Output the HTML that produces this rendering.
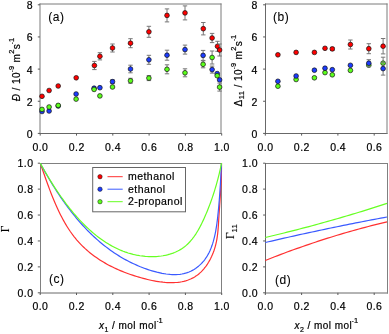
<!DOCTYPE html>
<html><head><meta charset="utf-8"><style>
html,body{margin:0;padding:0;background:#fff;width:389px;height:334px;overflow:hidden}
svg{display:block;will-change:transform}
</style></head><body>
<svg width="389" height="334" viewBox="0 0 389 334">
<rect width="389" height="334" fill="#fff"/>
<line x1="39.5" y1="4.0" x2="221.5" y2="4.0" stroke="#7a7a7a" stroke-width="1"/>
<line x1="39.5" y1="133.5" x2="221.5" y2="133.5" stroke="#686868" stroke-width="1"/>
<line x1="40.0" y1="3.5" x2="40.0" y2="134" stroke="#7a7a7a" stroke-width="1"/>
<line x1="221.0" y1="3.5" x2="221.0" y2="134" stroke="#7a7a7a" stroke-width="1"/>
<line x1="265" y1="4.0" x2="387.5" y2="4.0" stroke="#7a7a7a" stroke-width="1"/>
<line x1="265" y1="133.5" x2="387.5" y2="133.5" stroke="#686868" stroke-width="1"/>
<line x1="265.5" y1="3.5" x2="265.5" y2="134" stroke="#686868" stroke-width="1"/>
<line x1="387.0" y1="3.5" x2="387.0" y2="134" stroke="#7a7a7a" stroke-width="1"/>
<line x1="40" y1="163.5" x2="222" y2="163.5" stroke="#808080" stroke-width="1"/>
<line x1="40" y1="293.0" x2="222" y2="293.0" stroke="#686868" stroke-width="1"/>
<line x1="40.5" y1="163" x2="40.5" y2="293.5" stroke="#808080" stroke-width="1"/>
<line x1="221.5" y1="163" x2="221.5" y2="293.5" stroke="#808080" stroke-width="1"/>
<line x1="265" y1="163.5" x2="388" y2="163.5" stroke="#808080" stroke-width="1"/>
<line x1="265" y1="293.0" x2="388" y2="293.0" stroke="#686868" stroke-width="1"/>
<line x1="265.5" y1="163" x2="265.5" y2="293.5" stroke="#686868" stroke-width="1"/>
<line x1="387.5" y1="163" x2="387.5" y2="293.5" stroke="#808080" stroke-width="1"/>
<g font-family="Liberation Sans, sans-serif" font-size="10.5" fill="#000" stroke="#000" stroke-width="0.2" letter-spacing="0.45">
<line x1="40.20" y1="133.4" x2="40.20" y2="135.6" stroke="#5a5a5a" stroke-width="1"/>
<text x="40.43" y="151.0" text-anchor="middle">0.0</text>
<line x1="76.50" y1="133.4" x2="76.50" y2="135.6" stroke="#5a5a5a" stroke-width="1"/>
<text x="76.72" y="151.0" text-anchor="middle">0.2</text>
<line x1="112.80" y1="133.4" x2="112.80" y2="135.6" stroke="#5a5a5a" stroke-width="1"/>
<text x="113.03" y="151.0" text-anchor="middle">0.4</text>
<line x1="149.10" y1="133.4" x2="149.10" y2="135.6" stroke="#5a5a5a" stroke-width="1"/>
<text x="149.32" y="151.0" text-anchor="middle">0.6</text>
<line x1="185.40" y1="133.4" x2="185.40" y2="135.6" stroke="#5a5a5a" stroke-width="1"/>
<text x="185.63" y="151.0" text-anchor="middle">0.8</text>
<line x1="221.70" y1="133.4" x2="221.70" y2="135.6" stroke="#5a5a5a" stroke-width="1"/>
<text x="221.92" y="151.0" text-anchor="middle">1.0</text>
<line x1="265.30" y1="133.4" x2="265.30" y2="135.6" stroke="#5a5a5a" stroke-width="1"/>
<text x="265.53" y="151.0" text-anchor="middle">0.0</text>
<line x1="301.60" y1="133.4" x2="301.60" y2="135.6" stroke="#5a5a5a" stroke-width="1"/>
<text x="301.83" y="151.0" text-anchor="middle">0.2</text>
<line x1="337.90" y1="133.4" x2="337.90" y2="135.6" stroke="#5a5a5a" stroke-width="1"/>
<text x="338.13" y="151.0" text-anchor="middle">0.4</text>
<line x1="374.20" y1="133.4" x2="374.20" y2="135.6" stroke="#5a5a5a" stroke-width="1"/>
<text x="374.43" y="151.0" text-anchor="middle">0.6</text>
<line x1="40.20" y1="292.8" x2="40.20" y2="295.0" stroke="#5a5a5a" stroke-width="1"/>
<text x="40.43" y="310.4" text-anchor="middle">0.0</text>
<line x1="76.50" y1="292.8" x2="76.50" y2="295.0" stroke="#5a5a5a" stroke-width="1"/>
<text x="76.72" y="310.4" text-anchor="middle">0.2</text>
<line x1="112.80" y1="292.8" x2="112.80" y2="295.0" stroke="#5a5a5a" stroke-width="1"/>
<text x="113.03" y="310.4" text-anchor="middle">0.4</text>
<line x1="149.10" y1="292.8" x2="149.10" y2="295.0" stroke="#5a5a5a" stroke-width="1"/>
<text x="149.32" y="310.4" text-anchor="middle">0.6</text>
<line x1="185.40" y1="292.8" x2="185.40" y2="295.0" stroke="#5a5a5a" stroke-width="1"/>
<text x="185.63" y="310.4" text-anchor="middle">0.8</text>
<line x1="221.70" y1="292.8" x2="221.70" y2="295.0" stroke="#5a5a5a" stroke-width="1"/>
<text x="221.92" y="310.4" text-anchor="middle">1.0</text>
<line x1="265.30" y1="292.8" x2="265.30" y2="295.0" stroke="#5a5a5a" stroke-width="1"/>
<text x="265.53" y="310.4" text-anchor="middle">0.0</text>
<line x1="301.60" y1="292.8" x2="301.60" y2="295.0" stroke="#5a5a5a" stroke-width="1"/>
<text x="301.83" y="310.4" text-anchor="middle">0.2</text>
<line x1="337.90" y1="292.8" x2="337.90" y2="295.0" stroke="#5a5a5a" stroke-width="1"/>
<text x="338.13" y="310.4" text-anchor="middle">0.4</text>
<line x1="374.20" y1="292.8" x2="374.20" y2="295.0" stroke="#5a5a5a" stroke-width="1"/>
<text x="374.43" y="310.4" text-anchor="middle">0.6</text>
<line x1="37.8" y1="133.40" x2="40.0" y2="133.40" stroke="#5a5a5a" stroke-width="1"/>
<text x="33.05" y="137.90" text-anchor="end">0</text>
<line x1="37.8" y1="101.25" x2="40.0" y2="101.25" stroke="#5a5a5a" stroke-width="1"/>
<text x="33.05" y="105.75" text-anchor="end">2</text>
<line x1="37.8" y1="69.10" x2="40.0" y2="69.10" stroke="#5a5a5a" stroke-width="1"/>
<text x="33.05" y="73.60" text-anchor="end">4</text>
<line x1="37.8" y1="36.95" x2="40.0" y2="36.95" stroke="#5a5a5a" stroke-width="1"/>
<text x="33.05" y="41.45" text-anchor="end">6</text>
<line x1="37.8" y1="4.80" x2="40.0" y2="4.80" stroke="#5a5a5a" stroke-width="1"/>
<text x="33.05" y="9.30" text-anchor="end">8</text>
<line x1="263.1" y1="133.40" x2="265.3" y2="133.40" stroke="#5a5a5a" stroke-width="1"/>
<text x="257.85" y="137.90" text-anchor="end">0</text>
<line x1="263.1" y1="101.25" x2="265.3" y2="101.25" stroke="#5a5a5a" stroke-width="1"/>
<text x="257.85" y="105.75" text-anchor="end">2</text>
<line x1="263.1" y1="69.10" x2="265.3" y2="69.10" stroke="#5a5a5a" stroke-width="1"/>
<text x="257.85" y="73.60" text-anchor="end">4</text>
<line x1="263.1" y1="36.95" x2="265.3" y2="36.95" stroke="#5a5a5a" stroke-width="1"/>
<text x="257.85" y="41.45" text-anchor="end">6</text>
<line x1="263.1" y1="4.80" x2="265.3" y2="4.80" stroke="#5a5a5a" stroke-width="1"/>
<text x="257.85" y="9.30" text-anchor="end">8</text>
<line x1="37.8" y1="292.80" x2="40.0" y2="292.80" stroke="#5a5a5a" stroke-width="1"/>
<text x="33.45" y="297.00" text-anchor="end">0.0</text>
<line x1="37.8" y1="266.88" x2="40.0" y2="266.88" stroke="#5a5a5a" stroke-width="1"/>
<text x="33.45" y="271.08" text-anchor="end">0.2</text>
<line x1="37.8" y1="240.96" x2="40.0" y2="240.96" stroke="#5a5a5a" stroke-width="1"/>
<text x="33.45" y="245.16" text-anchor="end">0.4</text>
<line x1="37.8" y1="215.04" x2="40.0" y2="215.04" stroke="#5a5a5a" stroke-width="1"/>
<text x="33.45" y="219.24" text-anchor="end">0.6</text>
<line x1="37.8" y1="189.12" x2="40.0" y2="189.12" stroke="#5a5a5a" stroke-width="1"/>
<text x="33.45" y="193.32" text-anchor="end">0.8</text>
<line x1="37.8" y1="163.20" x2="40.0" y2="163.20" stroke="#5a5a5a" stroke-width="1"/>
<text x="33.45" y="167.40" text-anchor="end">1.0</text>
<line x1="263.1" y1="292.80" x2="265.3" y2="292.80" stroke="#5a5a5a" stroke-width="1"/>
<text x="258.05" y="297.00" text-anchor="end">0.0</text>
<line x1="263.1" y1="266.88" x2="265.3" y2="266.88" stroke="#5a5a5a" stroke-width="1"/>
<text x="258.05" y="271.08" text-anchor="end">0.2</text>
<line x1="263.1" y1="240.96" x2="265.3" y2="240.96" stroke="#5a5a5a" stroke-width="1"/>
<text x="258.05" y="245.16" text-anchor="end">0.4</text>
<line x1="263.1" y1="215.04" x2="265.3" y2="215.04" stroke="#5a5a5a" stroke-width="1"/>
<text x="258.05" y="219.24" text-anchor="end">0.6</text>
<line x1="263.1" y1="189.12" x2="265.3" y2="189.12" stroke="#5a5a5a" stroke-width="1"/>
<text x="258.05" y="193.32" text-anchor="end">0.8</text>
<line x1="263.1" y1="163.20" x2="265.3" y2="163.20" stroke="#5a5a5a" stroke-width="1"/>
<text x="258.05" y="167.40" text-anchor="end">1.0</text>
</g>
<g font-family="Liberation Sans, sans-serif" font-size="12" fill="#000" stroke="#000" stroke-width="0.08" letter-spacing="0.5">
<text x="48.3" y="21.3">(a)</text>
<text x="273.0" y="21.3">(b)</text>
<text x="48.9" y="283.2">(c)</text>
<text x="275.1" y="283.7">(d)</text>
</g>
<g font-family="Liberation Sans, sans-serif" font-size="10.0" fill="#000" stroke="#000" stroke-width="0.2" letter-spacing="0.45">
<text transform="translate(19.9,69.5) rotate(-90)" text-anchor="middle"><tspan font-style="italic">Đ</tspan> / 10<tspan dy="-5.6" font-size="5" letter-spacing="0.2">-</tspan><tspan font-size="7.5" letter-spacing="0.2">9</tspan><tspan dy="5.6"> m</tspan><tspan dy="-5.6" font-size="7.5" letter-spacing="0.2">2</tspan><tspan dy="5.6">s</tspan><tspan dy="-5.6" font-size="5" letter-spacing="0.2">-</tspan><tspan font-size="7.5" letter-spacing="0.2">1</tspan></text>
<text transform="translate(241.8,70.5) rotate(-90)" text-anchor="middle">Δ<tspan dy="2.5" font-size="7.5">11</tspan><tspan dy="-2.5"> / 10</tspan><tspan dy="-5.6" font-size="5" letter-spacing="0.2">-</tspan><tspan font-size="7.5" letter-spacing="0.2">9</tspan><tspan dy="5.6"> m</tspan><tspan dy="-5.6" font-size="7.5" letter-spacing="0.2">2</tspan><tspan dy="5.6">s</tspan><tspan dy="-5.6" font-size="5" letter-spacing="0.2">-</tspan><tspan font-size="7.5" letter-spacing="0.2">1</tspan></text>
<text x="131.0" y="328.6" text-anchor="middle"><tspan font-style="italic">x</tspan><tspan dy="3.2" font-size="7">1</tspan><tspan dy="-3.2"> / mol mol</tspan><tspan dy="-5.6" font-size="5" letter-spacing="0.2">-</tspan><tspan font-size="7.5" letter-spacing="0.2">1</tspan></text>
<text x="326.4" y="328.6" text-anchor="middle"><tspan font-style="italic">x</tspan><tspan dy="3.2" font-size="7">2</tspan><tspan dy="-3.2"> / mol mol</tspan><tspan dy="-5.6" font-size="5" letter-spacing="0.2">-</tspan><tspan font-size="7.5" letter-spacing="0.2">1</tspan></text>
</g>
<g font-family="Liberation Serif, serif" font-size="11.5" fill="#000" stroke="#000" stroke-width="0.12">
<text transform="translate(9,228.8) rotate(-90)" text-anchor="middle">Γ</text>
<text transform="translate(234,231.6) rotate(-90)" text-anchor="middle">Γ<tspan dy="2.5" style="font-family:Liberation Sans,sans-serif;font-size:8px">11</tspan></text>
</g>
<path d="M40.20,163.20 L40.87,165.09 L41.54,167.00 L42.22,168.92 L42.91,170.86 L43.60,172.82 L44.29,174.79 L44.99,176.77 L45.70,178.77 L46.42,180.77 L47.15,182.78 L47.88,184.80 L48.63,186.82 L49.39,188.85 L50.16,190.88 L50.94,192.91 L51.73,194.94 L52.54,196.97 L53.37,198.99 L54.21,201.01 L55.06,203.03 L55.93,205.03 L56.82,207.03 L57.73,209.02 L58.66,210.99 L59.61,212.95 L60.57,214.90 L61.56,216.83 L62.57,218.74 L63.61,220.64 L64.66,222.51 L65.74,224.36 L66.85,226.19 L67.98,227.99 L69.13,229.77 L70.31,231.52 L71.53,233.24 L72.76,234.93 L74.03,236.59 L75.33,238.21 L76.65,239.80 L78.01,241.36 L79.40,242.89 L80.81,244.38 L82.25,245.84 L83.72,247.27 L85.21,248.67 L86.74,250.04 L88.29,251.37 L89.86,252.68 L91.46,253.96 L93.09,255.21 L94.74,256.42 L96.42,257.61 L98.12,258.77 L99.85,259.91 L101.60,261.01 L103.37,262.09 L105.17,263.14 L106.99,264.16 L108.83,265.16 L110.69,266.13 L112.58,267.07 L114.48,267.99 L116.41,268.89 L118.36,269.76 L120.32,270.60 L122.31,271.42 L124.32,272.22 L126.35,272.99 L128.39,273.74 L130.46,274.47 L132.54,275.18 L134.64,275.86 L136.75,276.52 L138.89,277.17 L141.04,277.78 L143.20,278.38 L145.38,278.95 L147.57,279.49 L149.76,280.00 L151.96,280.48 L154.17,280.92 L156.37,281.31 L158.56,281.66 L160.76,281.97 L162.94,282.22 L165.11,282.42 L167.27,282.57 L169.41,282.65 L171.54,282.67 L173.64,282.63 L175.72,282.52 L177.77,282.33 L179.80,282.07 L181.79,281.74 L183.75,281.32 L185.67,280.82 L187.55,280.23 L189.39,279.55 L191.18,278.78 L192.93,277.91 L194.63,276.94 L196.27,275.87 L197.87,274.70 L199.40,273.43 L200.88,272.07 L202.31,270.63 L203.68,269.10 L204.99,267.49 L206.24,265.82 L207.43,264.08 L208.56,262.28 L209.63,260.42 L210.63,258.51 L211.58,256.55 L212.46,254.55 L213.27,252.51 L214.02,250.45 L214.71,248.35 L215.32,246.24 L215.87,244.10 L216.35,241.96 L216.77,239.80 L217.13,237.64 L217.44,235.48 L217.70,233.31 L217.92,231.14 L218.12,228.97 L218.28,226.80 L218.43,224.64 L218.57,222.48 L218.70,220.33 L218.82,218.19 L218.96,216.06 L219.09,213.95 L219.23,211.84 L219.38,209.74 L219.52,207.64 L219.66,205.55 L219.81,203.47 L219.95,201.39 L220.09,199.31 L220.23,197.23 L220.37,195.16 L220.50,193.08 L220.63,191.00 L220.75,188.91 L220.86,186.82 L220.97,184.73 L221.07,182.62 L221.16,180.51 L221.25,178.39 L221.32,176.26 L221.38,174.12 L221.43,171.97 L221.47,169.80 L221.49,167.62 L221.50,165.42 L221.50,163.20" fill="none" stroke="#ff3030" stroke-width="1.2" stroke-linejoin="round"/>
<path d="M40.20,163.20 L41.15,164.94 L42.10,166.67 L43.06,168.41 L44.03,170.14 L45.01,171.87 L46.00,173.60 L46.99,175.32 L47.99,177.04 L49.01,178.76 L50.03,180.47 L51.06,182.18 L52.10,183.89 L53.15,185.59 L54.21,187.28 L55.28,188.97 L56.36,190.65 L57.44,192.33 L58.54,194.00 L59.65,195.66 L60.77,197.32 L61.90,198.96 L63.04,200.60 L64.20,202.23 L65.36,203.86 L66.53,205.47 L67.72,207.07 L68.91,208.67 L70.12,210.25 L71.34,211.83 L72.57,213.39 L73.81,214.94 L75.07,216.49 L76.34,218.02 L77.61,219.53 L78.91,221.04 L80.21,222.53 L81.53,224.01 L82.86,225.48 L84.20,226.93 L85.56,228.37 L86.92,229.80 L88.31,231.21 L89.70,232.61 L91.11,233.99 L92.53,235.35 L93.97,236.70 L95.42,238.04 L96.89,239.35 L98.36,240.65 L99.86,241.94 L101.37,243.20 L102.89,244.45 L104.43,245.68 L105.98,246.89 L107.54,248.08 L109.13,249.25 L110.72,250.41 L112.34,251.54 L113.97,252.66 L115.61,253.75 L117.27,254.82 L118.95,255.87 L120.64,256.90 L122.35,257.91 L124.07,258.90 L125.81,259.86 L127.57,260.80 L129.35,261.72 L131.14,262.62 L132.95,263.49 L134.77,264.33 L136.62,265.16 L138.48,265.95 L140.35,266.73 L142.25,267.47 L144.16,268.19 L146.10,268.89 L148.04,269.56 L150.01,270.20 L152.00,270.82 L154.00,271.40 L156.01,271.95 L158.03,272.46 L160.06,272.92 L162.09,273.34 L164.11,273.70 L166.14,274.01 L168.16,274.26 L170.16,274.45 L172.16,274.57 L174.14,274.61 L176.10,274.59 L178.04,274.48 L179.95,274.29 L181.84,274.01 L183.70,273.64 L185.52,273.17 L187.30,272.61 L189.04,271.95 L190.75,271.20 L192.41,270.36 L194.02,269.43 L195.59,268.42 L197.10,267.33 L198.56,266.16 L199.97,264.92 L201.32,263.60 L202.61,262.22 L203.84,260.77 L205.01,259.26 L206.11,257.70 L207.14,256.07 L208.11,254.39 L209.01,252.67 L209.86,250.89 L210.65,249.08 L211.39,247.22 L212.08,245.33 L212.72,243.40 L213.31,241.44 L213.85,239.45 L214.36,237.44 L214.83,235.41 L215.26,233.36 L215.66,231.30 L216.02,229.22 L216.36,227.14 L216.67,225.05 L216.96,222.96 L217.23,220.87 L217.48,218.79 L217.71,216.71 L217.93,214.64 L218.15,212.59 L218.35,210.55 L218.54,208.53 L218.73,206.52 L218.90,204.52 L219.07,202.53 L219.24,200.56 L219.39,198.59 L219.54,196.62 L219.69,194.67 L219.83,192.72 L219.96,190.77 L220.09,188.82 L220.21,186.88 L220.34,184.94 L220.45,182.99 L220.57,181.04 L220.68,179.09 L220.78,177.13 L220.89,175.17 L220.99,173.20 L221.10,171.22 L221.20,169.24 L221.30,167.24 L221.40,165.23 L221.50,163.20" fill="none" stroke="#3a5aff" stroke-width="1.2" stroke-linejoin="round"/>
<path d="M40.21,163.20 L41.01,164.64 L41.83,166.09 L42.65,167.54 L43.49,169.00 L44.34,170.47 L45.19,171.94 L46.06,173.42 L46.93,174.90 L47.82,176.38 L48.72,177.87 L49.63,179.36 L50.54,180.85 L51.47,182.34 L52.41,183.84 L53.36,185.33 L54.32,186.83 L55.29,188.32 L56.27,189.81 L57.27,191.30 L58.27,192.79 L59.28,194.27 L60.31,195.75 L61.35,197.23 L62.39,198.70 L63.45,200.16 L64.52,201.62 L65.60,203.08 L66.69,204.52 L67.80,205.96 L68.91,207.39 L70.03,208.81 L71.17,210.22 L72.32,211.62 L73.48,213.02 L74.65,214.40 L75.83,215.76 L77.03,217.12 L78.23,218.46 L79.45,219.79 L80.68,221.11 L81.92,222.41 L83.17,223.70 L84.44,224.97 L85.71,226.22 L87.00,227.46 L88.30,228.68 L89.61,229.88 L90.94,231.06 L92.28,232.23 L93.63,233.37 L94.99,234.49 L96.36,235.60 L97.75,236.68 L99.14,237.74 L100.55,238.78 L101.98,239.79 L103.41,240.78 L104.86,241.75 L106.32,242.69 L107.79,243.61 L109.28,244.50 L110.78,245.36 L112.29,246.20 L113.81,247.01 L115.35,247.79 L116.90,248.54 L118.46,249.26 L120.04,249.95 L121.63,250.61 L123.23,251.25 L124.84,251.85 L126.47,252.41 L128.11,252.95 L129.77,253.45 L131.44,253.91 L133.12,254.35 L134.81,254.74 L136.52,255.11 L138.24,255.43 L139.98,255.72 L141.72,255.97 L143.48,256.18 L145.25,256.36 L147.03,256.49 L148.81,256.58 L150.59,256.63 L152.37,256.64 L154.15,256.61 L155.93,256.53 L157.70,256.40 L159.47,256.23 L161.22,256.01 L162.96,255.74 L164.69,255.43 L166.40,255.06 L168.10,254.65 L169.77,254.18 L171.42,253.66 L173.04,253.09 L174.64,252.46 L176.21,251.77 L177.75,251.03 L179.25,250.24 L180.72,249.38 L182.15,248.47 L183.54,247.50 L184.89,246.47 L186.20,245.38 L187.47,244.23 L188.69,243.02 L189.88,241.76 L191.03,240.46 L192.14,239.11 L193.22,237.71 L194.27,236.28 L195.28,234.81 L196.27,233.30 L197.22,231.77 L198.15,230.20 L199.05,228.61 L199.92,227.00 L200.77,225.37 L201.60,223.72 L202.41,222.05 L203.20,220.38 L203.97,218.69 L204.72,217.01 L205.46,215.32 L206.18,213.62 L206.89,211.93 L207.59,210.23 L208.26,208.54 L208.93,206.84 L209.58,205.15 L210.21,203.45 L210.83,201.75 L211.44,200.06 L212.03,198.36 L212.61,196.66 L213.18,194.97 L213.73,193.27 L214.27,191.58 L214.80,189.89 L215.31,188.20 L215.81,186.51 L216.29,184.83 L216.77,183.14 L217.23,181.46 L217.68,179.79 L218.11,178.11 L218.54,176.44 L218.95,174.77 L219.35,173.10 L219.74,171.44 L220.11,169.79 L220.48,168.13 L220.83,166.48 L221.17,164.84 L221.50,163.20" fill="none" stroke="#66ff22" stroke-width="1.2" stroke-linejoin="round"/>
<path d="M265.30,260.44 L268.42,259.20 L271.54,257.98 L274.66,256.77 L277.78,255.57 L280.90,254.39 L284.02,253.22 L287.14,252.06 L290.26,250.92 L293.38,249.78 L296.51,248.66 L299.63,247.56 L302.75,246.46 L305.87,245.38 L308.99,244.32 L312.11,243.26 L315.23,242.22 L318.35,241.19 L321.47,240.17 L324.59,239.17 L327.71,238.18 L330.83,237.20 L333.95,236.24 L337.07,235.28 L340.19,234.35 L343.31,233.42 L346.43,232.51 L349.55,231.61 L352.67,230.72 L355.79,229.84 L358.92,228.98 L362.04,228.13 L365.16,227.30 L368.28,226.47 L371.40,225.66 L374.52,224.87 L377.64,224.08 L380.76,223.31 L383.88,222.55 L387.00,221.80" fill="none" stroke="#ff3030" stroke-width="1.2"/>
<path d="M265.30,242.50 L268.42,241.77 L271.54,241.05 L274.66,240.32 L277.78,239.61 L280.90,238.89 L284.02,238.18 L287.14,237.48 L290.26,236.77 L293.38,236.07 L296.51,235.38 L299.63,234.69 L302.75,234.00 L305.87,233.32 L308.99,232.64 L312.11,231.97 L315.23,231.30 L318.35,230.63 L321.47,229.97 L324.59,229.32 L327.71,228.66 L330.83,228.01 L333.95,227.37 L337.07,226.72 L340.19,226.09 L343.31,225.45 L346.43,224.82 L349.55,224.20 L352.67,223.57 L355.79,222.96 L358.92,222.34 L362.04,221.73 L365.16,221.13 L368.28,220.52 L371.40,219.93 L374.52,219.33 L377.64,218.74 L380.76,218.16 L383.88,217.58 L387.00,217.00" fill="none" stroke="#3a5aff" stroke-width="1.2"/>
<path d="M265.30,237.49 L268.42,236.76 L271.54,236.01 L274.66,235.27 L277.78,234.51 L280.90,233.75 L284.02,232.98 L287.14,232.20 L290.26,231.41 L293.38,230.62 L296.51,229.82 L299.63,229.01 L302.75,228.20 L305.87,227.37 L308.99,226.55 L312.11,225.71 L315.23,224.86 L318.35,224.01 L321.47,223.15 L324.59,222.29 L327.71,221.41 L330.83,220.53 L333.95,219.64 L337.07,218.75 L340.19,217.84 L343.31,216.93 L346.43,216.02 L349.55,215.09 L352.67,214.16 L355.79,213.22 L358.92,212.27 L362.04,211.32 L365.16,210.35 L368.28,209.39 L371.40,208.41 L374.52,207.42 L377.64,206.43 L380.76,205.43 L383.88,204.43 L387.00,203.41" fill="none" stroke="#66ff22" stroke-width="1.2"/>
<rect x="92.7" y="167.5" width="92.8" height="44.3" fill="#fff" stroke="#666" stroke-width="1"/>
<circle cx="100" cy="176.7" r="2.2" fill="#ff0000" stroke="#111" stroke-width="0.5"/>
<line x1="107.5" y1="176.7" x2="122.7" y2="176.7" stroke="#ff3030" stroke-width="1"/>
<text x="128" y="180.29999999999998" font-family="Liberation Sans, sans-serif" font-size="10.5" letter-spacing="0.45" fill="#000" stroke="#000" stroke-width="0.2">methanol</text>
<circle cx="100" cy="189.2" r="2.2" fill="#1c3cff" stroke="#111" stroke-width="0.5"/>
<line x1="107.5" y1="189.2" x2="122.7" y2="189.2" stroke="#3a5aff" stroke-width="1"/>
<text x="128" y="192.79999999999998" font-family="Liberation Sans, sans-serif" font-size="10.5" letter-spacing="0.45" fill="#000" stroke="#000" stroke-width="0.2">ethanol</text>
<circle cx="100" cy="201.7" r="2.2" fill="#5cff1c" stroke="#111" stroke-width="0.5"/>
<line x1="107.5" y1="201.7" x2="122.7" y2="201.7" stroke="#66ff22" stroke-width="1"/>
<text x="128" y="205.29999999999998" font-family="Liberation Sans, sans-serif" font-size="10.5" letter-spacing="0.45" fill="#000" stroke="#000" stroke-width="0.2">2-propanol</text>
<circle cx="42.00" cy="96.30" r="2.35" fill="#ff0000" stroke="#111" stroke-width="0.7"/>
<circle cx="49.10" cy="90.50" r="2.35" fill="#ff0000" stroke="#111" stroke-width="0.7"/>
<circle cx="58.20" cy="86.00" r="2.35" fill="#ff0000" stroke="#111" stroke-width="0.7"/>
<circle cx="76.20" cy="77.80" r="2.35" fill="#ff0000" stroke="#111" stroke-width="0.7"/>
<line x1="94.40" y1="61.40" x2="94.40" y2="69.60" stroke="#777" stroke-width="1"/><line x1="92.20" y1="61.40" x2="96.60" y2="61.40" stroke="#777" stroke-width="1"/><line x1="92.20" y1="69.60" x2="96.60" y2="69.60" stroke="#777" stroke-width="1"/><circle cx="94.40" cy="65.50" r="2.35" fill="#ff0000" stroke="#111" stroke-width="0.7"/>
<line x1="99.90" y1="52.70" x2="99.90" y2="59.90" stroke="#777" stroke-width="1"/><line x1="97.70" y1="52.70" x2="102.10" y2="52.70" stroke="#777" stroke-width="1"/><line x1="97.70" y1="59.90" x2="102.10" y2="59.90" stroke="#777" stroke-width="1"/><circle cx="99.90" cy="56.30" r="2.35" fill="#ff0000" stroke="#111" stroke-width="0.7"/>
<line x1="112.50" y1="44.00" x2="112.50" y2="52.00" stroke="#777" stroke-width="1"/><line x1="110.30" y1="44.00" x2="114.70" y2="44.00" stroke="#777" stroke-width="1"/><line x1="110.30" y1="52.00" x2="114.70" y2="52.00" stroke="#777" stroke-width="1"/><circle cx="112.50" cy="48.00" r="2.35" fill="#ff0000" stroke="#111" stroke-width="0.7"/>
<line x1="130.50" y1="38.70" x2="130.50" y2="47.70" stroke="#777" stroke-width="1"/><line x1="128.30" y1="38.70" x2="132.70" y2="38.70" stroke="#777" stroke-width="1"/><line x1="128.30" y1="47.70" x2="132.70" y2="47.70" stroke="#777" stroke-width="1"/><circle cx="130.50" cy="43.20" r="2.35" fill="#ff0000" stroke="#111" stroke-width="0.7"/>
<line x1="148.90" y1="26.30" x2="148.90" y2="37.30" stroke="#777" stroke-width="1"/><line x1="146.70" y1="26.30" x2="151.10" y2="26.30" stroke="#777" stroke-width="1"/><line x1="146.70" y1="37.30" x2="151.10" y2="37.30" stroke="#777" stroke-width="1"/><circle cx="148.90" cy="31.80" r="2.35" fill="#ff0000" stroke="#111" stroke-width="0.7"/>
<line x1="167.00" y1="8.90" x2="167.00" y2="21.90" stroke="#777" stroke-width="1"/><line x1="164.80" y1="8.90" x2="169.20" y2="8.90" stroke="#777" stroke-width="1"/><line x1="164.80" y1="21.90" x2="169.20" y2="21.90" stroke="#777" stroke-width="1"/><circle cx="167.00" cy="15.40" r="2.35" fill="#ff0000" stroke="#111" stroke-width="0.7"/>
<line x1="185.00" y1="5.90" x2="185.00" y2="19.90" stroke="#777" stroke-width="1"/><line x1="182.80" y1="5.90" x2="187.20" y2="5.90" stroke="#777" stroke-width="1"/><line x1="182.80" y1="19.90" x2="187.20" y2="19.90" stroke="#777" stroke-width="1"/><circle cx="185.00" cy="12.90" r="2.35" fill="#ff0000" stroke="#111" stroke-width="0.7"/>
<line x1="203.30" y1="22.50" x2="203.30" y2="34.90" stroke="#777" stroke-width="1"/><line x1="201.10" y1="22.50" x2="205.50" y2="22.50" stroke="#777" stroke-width="1"/><line x1="201.10" y1="34.90" x2="205.50" y2="34.90" stroke="#777" stroke-width="1"/><circle cx="203.30" cy="28.70" r="2.35" fill="#ff0000" stroke="#111" stroke-width="0.7"/>
<line x1="212.10" y1="33.40" x2="212.10" y2="42.60" stroke="#777" stroke-width="1"/><line x1="209.90" y1="33.40" x2="214.30" y2="33.40" stroke="#777" stroke-width="1"/><line x1="209.90" y1="42.60" x2="214.30" y2="42.60" stroke="#777" stroke-width="1"/><circle cx="212.10" cy="38.00" r="2.35" fill="#ff0000" stroke="#111" stroke-width="0.7"/>
<line x1="217.50" y1="41.30" x2="217.50" y2="51.30" stroke="#777" stroke-width="1"/><line x1="215.30" y1="41.30" x2="219.70" y2="41.30" stroke="#777" stroke-width="1"/><line x1="215.30" y1="51.30" x2="219.70" y2="51.30" stroke="#777" stroke-width="1"/><circle cx="217.50" cy="46.30" r="2.35" fill="#ff0000" stroke="#111" stroke-width="0.7"/>
<line x1="219.60" y1="44.00" x2="219.60" y2="56.00" stroke="#777" stroke-width="1"/><line x1="217.40" y1="44.00" x2="221.80" y2="44.00" stroke="#777" stroke-width="1"/><line x1="217.40" y1="56.00" x2="221.80" y2="56.00" stroke="#777" stroke-width="1"/><circle cx="219.60" cy="50.00" r="2.35" fill="#ff0000" stroke="#111" stroke-width="0.7"/>
<circle cx="42.00" cy="111.50" r="2.35" fill="#1c3cff" stroke="#111" stroke-width="0.7"/>
<circle cx="49.10" cy="111.00" r="2.35" fill="#1c3cff" stroke="#111" stroke-width="0.7"/>
<circle cx="58.20" cy="106.00" r="2.35" fill="#1c3cff" stroke="#111" stroke-width="0.7"/>
<circle cx="76.10" cy="94.00" r="2.35" fill="#1c3cff" stroke="#111" stroke-width="0.7"/>
<circle cx="94.10" cy="88.20" r="2.35" fill="#1c3cff" stroke="#111" stroke-width="0.7"/>
<circle cx="99.90" cy="87.70" r="2.35" fill="#1c3cff" stroke="#111" stroke-width="0.7"/>
<line x1="112.50" y1="79.70" x2="112.50" y2="83.70" stroke="#777" stroke-width="1"/><line x1="110.30" y1="79.70" x2="114.70" y2="79.70" stroke="#777" stroke-width="1"/><line x1="110.30" y1="83.70" x2="114.70" y2="83.70" stroke="#777" stroke-width="1"/><circle cx="112.50" cy="81.70" r="2.35" fill="#1c3cff" stroke="#111" stroke-width="0.7"/>
<line x1="130.50" y1="65.20" x2="130.50" y2="72.80" stroke="#777" stroke-width="1"/><line x1="128.30" y1="65.20" x2="132.70" y2="65.20" stroke="#777" stroke-width="1"/><line x1="128.30" y1="72.80" x2="132.70" y2="72.80" stroke="#777" stroke-width="1"/><circle cx="130.50" cy="69.00" r="2.35" fill="#1c3cff" stroke="#111" stroke-width="0.7"/>
<line x1="148.90" y1="55.30" x2="148.90" y2="64.30" stroke="#777" stroke-width="1"/><line x1="146.70" y1="55.30" x2="151.10" y2="55.30" stroke="#777" stroke-width="1"/><line x1="146.70" y1="64.30" x2="151.10" y2="64.30" stroke="#777" stroke-width="1"/><circle cx="148.90" cy="59.80" r="2.35" fill="#1c3cff" stroke="#111" stroke-width="0.7"/>
<line x1="167.00" y1="50.20" x2="167.00" y2="60.20" stroke="#777" stroke-width="1"/><line x1="164.80" y1="50.20" x2="169.20" y2="50.20" stroke="#777" stroke-width="1"/><line x1="164.80" y1="60.20" x2="169.20" y2="60.20" stroke="#777" stroke-width="1"/><circle cx="167.00" cy="55.20" r="2.35" fill="#1c3cff" stroke="#111" stroke-width="0.7"/>
<line x1="185.00" y1="45.10" x2="185.00" y2="54.10" stroke="#777" stroke-width="1"/><line x1="182.80" y1="45.10" x2="187.20" y2="45.10" stroke="#777" stroke-width="1"/><line x1="182.80" y1="54.10" x2="187.20" y2="54.10" stroke="#777" stroke-width="1"/><circle cx="185.00" cy="49.60" r="2.35" fill="#1c3cff" stroke="#111" stroke-width="0.7"/>
<line x1="203.10" y1="50.40" x2="203.10" y2="60.40" stroke="#777" stroke-width="1"/><line x1="200.90" y1="50.40" x2="205.30" y2="50.40" stroke="#777" stroke-width="1"/><line x1="200.90" y1="60.40" x2="205.30" y2="60.40" stroke="#777" stroke-width="1"/><circle cx="203.10" cy="55.40" r="2.35" fill="#1c3cff" stroke="#111" stroke-width="0.7"/>
<line x1="212.10" y1="66.10" x2="212.10" y2="73.10" stroke="#777" stroke-width="1"/><line x1="209.90" y1="66.10" x2="214.30" y2="66.10" stroke="#777" stroke-width="1"/><line x1="209.90" y1="73.10" x2="214.30" y2="73.10" stroke="#777" stroke-width="1"/><circle cx="212.10" cy="69.60" r="2.35" fill="#1c3cff" stroke="#111" stroke-width="0.7"/>
<circle cx="217.20" cy="73.60" r="2.35" fill="#1c3cff" stroke="#111" stroke-width="0.7"/>
<circle cx="219.60" cy="79.90" r="2.35" fill="#1c3cff" stroke="#111" stroke-width="0.7"/>
<circle cx="42.00" cy="109.40" r="2.35" fill="#5cff1c" stroke="#111" stroke-width="0.7"/>
<circle cx="49.10" cy="107.00" r="2.35" fill="#5cff1c" stroke="#111" stroke-width="0.7"/>
<circle cx="58.20" cy="105.40" r="2.35" fill="#5cff1c" stroke="#111" stroke-width="0.7"/>
<circle cx="76.10" cy="99.10" r="2.35" fill="#5cff1c" stroke="#111" stroke-width="0.7"/>
<circle cx="94.10" cy="89.40" r="2.35" fill="#5cff1c" stroke="#111" stroke-width="0.7"/>
<circle cx="99.90" cy="95.90" r="2.35" fill="#5cff1c" stroke="#111" stroke-width="0.7"/>
<circle cx="112.50" cy="87.00" r="2.35" fill="#5cff1c" stroke="#111" stroke-width="0.7"/>
<line x1="130.50" y1="78.30" x2="130.50" y2="83.30" stroke="#777" stroke-width="1"/><line x1="128.30" y1="78.30" x2="132.70" y2="78.30" stroke="#777" stroke-width="1"/><line x1="128.30" y1="83.30" x2="132.70" y2="83.30" stroke="#777" stroke-width="1"/><circle cx="130.50" cy="80.80" r="2.35" fill="#5cff1c" stroke="#111" stroke-width="0.7"/>
<line x1="148.90" y1="75.60" x2="148.90" y2="80.60" stroke="#777" stroke-width="1"/><line x1="146.70" y1="75.60" x2="151.10" y2="75.60" stroke="#777" stroke-width="1"/><line x1="146.70" y1="80.60" x2="151.10" y2="80.60" stroke="#777" stroke-width="1"/><circle cx="148.90" cy="78.10" r="2.35" fill="#5cff1c" stroke="#111" stroke-width="0.7"/>
<line x1="167.00" y1="64.80" x2="167.00" y2="73.80" stroke="#777" stroke-width="1"/><line x1="164.80" y1="64.80" x2="169.20" y2="64.80" stroke="#777" stroke-width="1"/><line x1="164.80" y1="73.80" x2="169.20" y2="73.80" stroke="#777" stroke-width="1"/><circle cx="167.00" cy="69.30" r="2.35" fill="#5cff1c" stroke="#111" stroke-width="0.7"/>
<line x1="185.00" y1="68.80" x2="185.00" y2="76.80" stroke="#777" stroke-width="1"/><line x1="182.80" y1="68.80" x2="187.20" y2="68.80" stroke="#777" stroke-width="1"/><line x1="182.80" y1="76.80" x2="187.20" y2="76.80" stroke="#777" stroke-width="1"/><circle cx="185.00" cy="72.80" r="2.35" fill="#5cff1c" stroke="#111" stroke-width="0.7"/>
<line x1="203.10" y1="60.80" x2="203.10" y2="67.80" stroke="#777" stroke-width="1"/><line x1="200.90" y1="60.80" x2="205.30" y2="60.80" stroke="#777" stroke-width="1"/><line x1="200.90" y1="67.80" x2="205.30" y2="67.80" stroke="#777" stroke-width="1"/><circle cx="203.10" cy="64.30" r="2.35" fill="#5cff1c" stroke="#111" stroke-width="0.7"/>
<line x1="212.10" y1="51.00" x2="212.10" y2="64.00" stroke="#777" stroke-width="1"/><line x1="209.90" y1="51.00" x2="214.30" y2="51.00" stroke="#777" stroke-width="1"/><line x1="209.90" y1="64.00" x2="214.30" y2="64.00" stroke="#777" stroke-width="1"/><circle cx="212.10" cy="57.50" r="2.35" fill="#5cff1c" stroke="#111" stroke-width="0.7"/>
<circle cx="217.20" cy="75.70" r="2.35" fill="#5cff1c" stroke="#111" stroke-width="0.7"/>
<line x1="219.60" y1="83.10" x2="219.60" y2="91.10" stroke="#777" stroke-width="1"/><line x1="217.40" y1="83.10" x2="221.80" y2="83.10" stroke="#777" stroke-width="1"/><line x1="217.40" y1="91.10" x2="221.80" y2="91.10" stroke="#777" stroke-width="1"/><circle cx="219.60" cy="87.10" r="2.35" fill="#5cff1c" stroke="#111" stroke-width="0.7"/>
<circle cx="277.90" cy="54.80" r="2.35" fill="#ff0000" stroke="#111" stroke-width="0.7"/>
<circle cx="296.10" cy="52.40" r="2.35" fill="#ff0000" stroke="#111" stroke-width="0.7"/>
<circle cx="314.40" cy="52.40" r="2.35" fill="#ff0000" stroke="#111" stroke-width="0.7"/>
<circle cx="325.00" cy="48.30" r="2.35" fill="#ff0000" stroke="#111" stroke-width="0.7"/>
<line x1="332.30" y1="47.40" x2="332.30" y2="50.40" stroke="#777" stroke-width="1"/><line x1="330.10" y1="47.40" x2="334.50" y2="47.40" stroke="#777" stroke-width="1"/><line x1="330.10" y1="50.40" x2="334.50" y2="50.40" stroke="#777" stroke-width="1"/><circle cx="332.30" cy="48.90" r="2.35" fill="#ff0000" stroke="#111" stroke-width="0.7"/>
<line x1="350.40" y1="40.00" x2="350.40" y2="49.00" stroke="#777" stroke-width="1"/><line x1="348.20" y1="40.00" x2="352.60" y2="40.00" stroke="#777" stroke-width="1"/><line x1="348.20" y1="49.00" x2="352.60" y2="49.00" stroke="#777" stroke-width="1"/><circle cx="350.40" cy="44.50" r="2.35" fill="#ff0000" stroke="#111" stroke-width="0.7"/>
<line x1="368.80" y1="43.70" x2="368.80" y2="53.70" stroke="#777" stroke-width="1"/><line x1="366.60" y1="43.70" x2="371.00" y2="43.70" stroke="#777" stroke-width="1"/><line x1="366.60" y1="53.70" x2="371.00" y2="53.70" stroke="#777" stroke-width="1"/><circle cx="368.80" cy="48.70" r="2.35" fill="#ff0000" stroke="#111" stroke-width="0.7"/>
<line x1="383.10" y1="38.50" x2="383.10" y2="53.90" stroke="#777" stroke-width="1"/><line x1="380.90" y1="38.50" x2="385.30" y2="38.50" stroke="#777" stroke-width="1"/><line x1="380.90" y1="53.90" x2="385.30" y2="53.90" stroke="#777" stroke-width="1"/><circle cx="383.10" cy="46.20" r="2.35" fill="#ff0000" stroke="#111" stroke-width="0.7"/>
<circle cx="277.90" cy="86.20" r="2.35" fill="#5cff1c" stroke="#111" stroke-width="0.7"/>
<circle cx="296.10" cy="79.50" r="2.35" fill="#5cff1c" stroke="#111" stroke-width="0.7"/>
<circle cx="314.40" cy="77.80" r="2.35" fill="#5cff1c" stroke="#111" stroke-width="0.7"/>
<circle cx="325.00" cy="72.60" r="2.35" fill="#5cff1c" stroke="#111" stroke-width="0.7"/>
<circle cx="332.30" cy="74.80" r="2.35" fill="#5cff1c" stroke="#111" stroke-width="0.7"/>
<circle cx="350.40" cy="70.40" r="2.35" fill="#5cff1c" stroke="#111" stroke-width="0.7"/>
<circle cx="368.80" cy="65.20" r="2.35" fill="#5cff1c" stroke="#111" stroke-width="0.7"/>
<line x1="383.10" y1="57.20" x2="383.10" y2="69.20" stroke="#777" stroke-width="1"/><line x1="380.90" y1="57.20" x2="385.30" y2="57.20" stroke="#777" stroke-width="1"/><line x1="380.90" y1="69.20" x2="385.30" y2="69.20" stroke="#777" stroke-width="1"/><circle cx="383.10" cy="63.20" r="2.35" fill="#5cff1c" stroke="#111" stroke-width="0.7"/>
<circle cx="277.90" cy="81.30" r="2.35" fill="#1c3cff" stroke="#111" stroke-width="0.7"/>
<circle cx="296.10" cy="76.00" r="2.35" fill="#1c3cff" stroke="#111" stroke-width="0.7"/>
<circle cx="314.40" cy="70.20" r="2.35" fill="#1c3cff" stroke="#111" stroke-width="0.7"/>
<circle cx="325.00" cy="68.20" r="2.35" fill="#1c3cff" stroke="#111" stroke-width="0.7"/>
<circle cx="332.30" cy="69.70" r="2.35" fill="#1c3cff" stroke="#111" stroke-width="0.7"/>
<circle cx="350.40" cy="65.30" r="2.35" fill="#1c3cff" stroke="#111" stroke-width="0.7"/>
<line x1="368.80" y1="59.70" x2="368.80" y2="66.70" stroke="#777" stroke-width="1"/><line x1="366.60" y1="59.70" x2="371.00" y2="59.70" stroke="#777" stroke-width="1"/><line x1="366.60" y1="66.70" x2="371.00" y2="66.70" stroke="#777" stroke-width="1"/><circle cx="368.80" cy="63.20" r="2.35" fill="#1c3cff" stroke="#111" stroke-width="0.7"/>
<line x1="383.10" y1="62.10" x2="383.10" y2="75.10" stroke="#777" stroke-width="1"/><line x1="380.90" y1="62.10" x2="385.30" y2="62.10" stroke="#777" stroke-width="1"/><line x1="380.90" y1="75.10" x2="385.30" y2="75.10" stroke="#777" stroke-width="1"/><circle cx="383.10" cy="68.60" r="2.35" fill="#1c3cff" stroke="#111" stroke-width="0.7"/>
</svg></body></html>
